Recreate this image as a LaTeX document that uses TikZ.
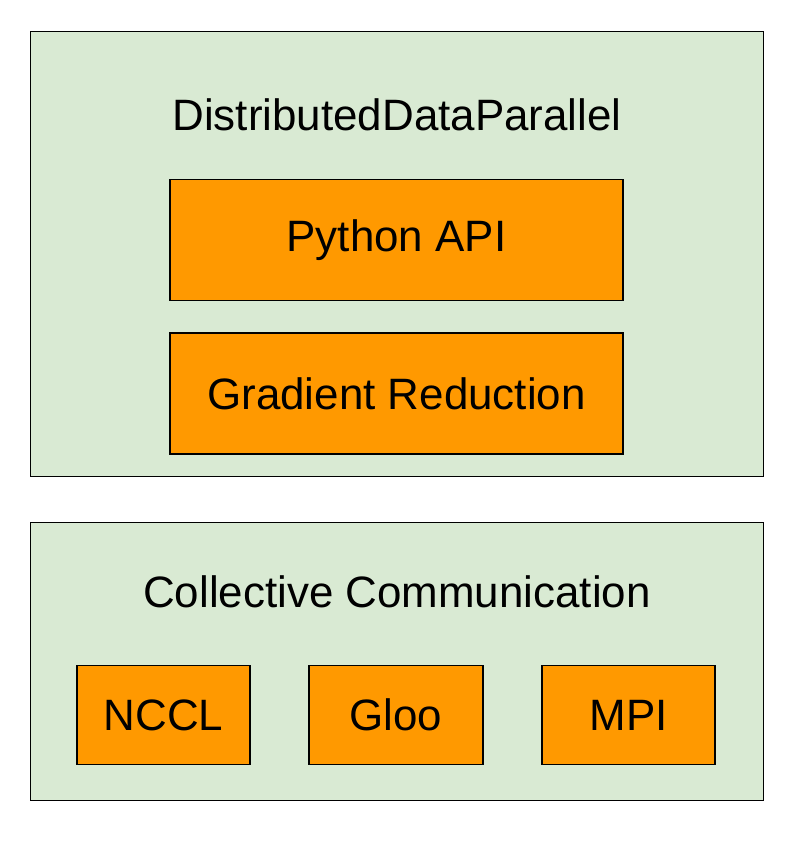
\documentclass[tikz,border=0pt]{standalone}
\usepackage{fontspec}
\setmainfont{Liberation Sans}
\usetikzlibrary{positioning}
\definecolor{panelgreen}{HTML}{D9EAD3}
\definecolor{boxorange}{HTML}{FF9900}
\begin{document}
\begin{tikzpicture}[
  x=0.02cm, y=-0.02cm,
  panel/.style={draw, fill=panelgreen, line width=0.8pt, anchor=north west, inner sep=0pt},
  box/.style={draw, fill=boxorange, line width=0.8pt, inner sep=0pt, font=\fontsize{25}{30}\selectfont},
  title/.style={font=\fontsize{25}{30}\selectfont}
]
\useasboundingbox (0,0) rectangle (793,853);
% upper panel
\node[panel, minimum width=14.66cm, minimum height=8.9cm] (ddp) at (30,31) {};
\node[title] (ddptitle) at (397,115) {DistributedDataParallel};
\node[box, minimum width=9.06cm, minimum height=2.42cm] (py) at (396.5,240) {Python API};
\node[box, minimum width=9.06cm, minimum height=2.42cm] (grad) at (396.5,393.5) {Gradient Reduction};
% lower panel
\node[panel, minimum width=14.66cm, minimum height=5.56cm] (cc) at (30,522) {};
\node[title] (cctitle) at (397,592) {Collective Communication};
\node[box, minimum width=3.46cm, minimum height=1.98cm] (nccl) at (163.5,715) {NCCL};
\node[box, minimum width=3.48cm, minimum height=1.98cm] (gloo) at (396,715) {Gloo};
\node[box, minimum width=3.46cm, minimum height=1.98cm] (mpi) at (628.5,715) {MPI};
\end{tikzpicture}
\end{document}
